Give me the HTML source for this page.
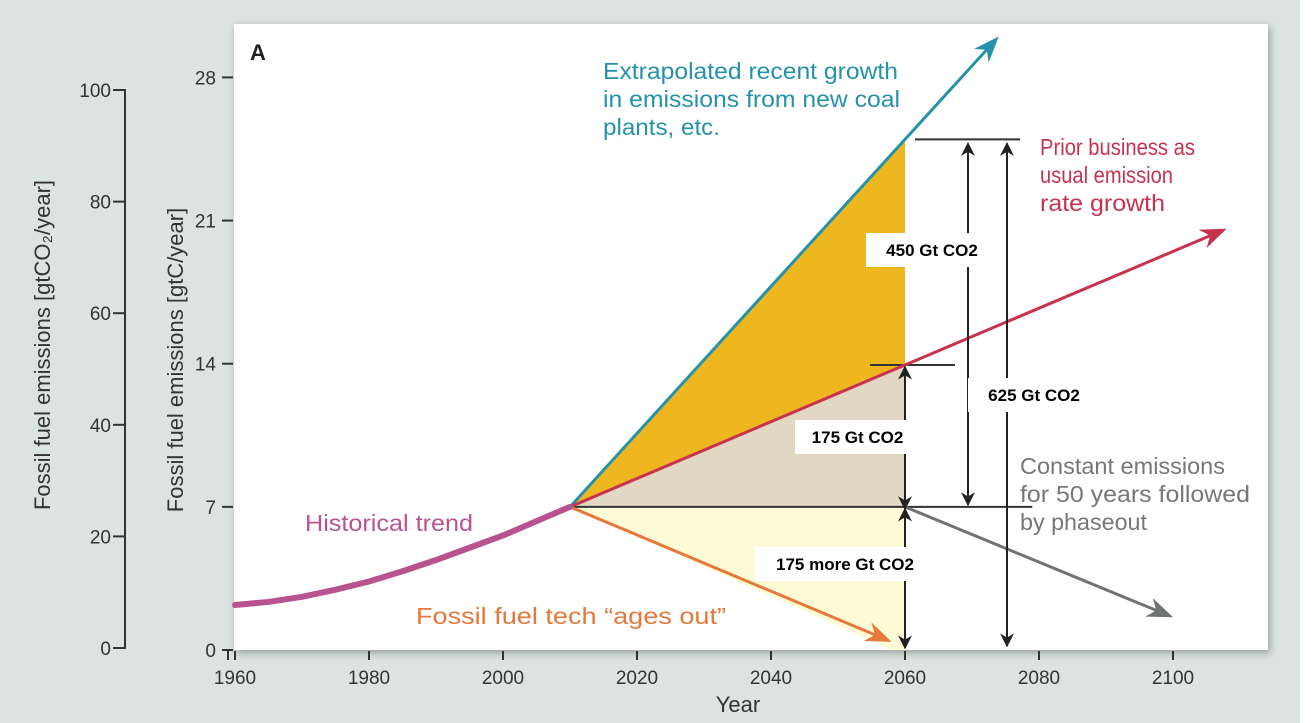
<!DOCTYPE html>
<html><head><meta charset="utf-8">
<style>
html,body{margin:0;padding:0;background:#dbe4e0;}
svg{display:block;font-family:"Liberation Sans",sans-serif;}
</style></head>
<body>
<svg width="1311" height="723" viewBox="0 0 1311 723">
<defs>
<filter id="sh" x="-5%" y="-5%" width="110%" height="110%"><feDropShadow dx="2" dy="3" stdDeviation="4" flood-color="#000" flood-opacity="0.3"/></filter>
<marker id="ab" viewBox="0 0 10 10" refX="9" refY="5" markerWidth="7" markerHeight="9" orient="auto-start-reverse"><path d="M0,0 L10,5 L0,10 L3,5z" fill="#222"/></marker>
</defs>
<rect x="0" y="0" width="1300" height="723" fill="#dbe4e0"/>
<rect x="1300" y="0" width="11" height="723" fill="#fff"/>
<rect x="234" y="24" width="1034" height="626" fill="#fff" filter="url(#sh)"/>
<text x="250" y="60" font-size="22" font-weight="bold" fill="#222">A</text>
<g id="axes"></g>
<g id="marks"></g>
</svg>
<script>
const xTicks=[1960,1980,2000,2020,2040,2060,2080,2100];
const yTicksC=[0,7,14,21,28];
const yTicksCO2=[0,20,40,60,80,100];
const histYears=[1960,1965,1970,1975,1980,1985,1990,1995,2000,2005,2010];
const histVals=[2.2,2.35,2.6,2.95,3.35,3.85,4.4,5.0,5.6,6.3,7.0];
const teal=[[2010,7],[2074,30.0]];
const red=[[2010,7],[2108,20.6]];
const orange=[[2010,7],[2058,0.4]];
const gray=[[2060,7],[2100,1.6]];

const X=y=>235+(y-1960)*6.7;
const Y=v=>650-v*20.45;
const Y2=v=>648-v*5.58;
const NS='http://www.w3.org/2000/svg';
const ax=document.getElementById('axes'),mk=document.getElementById('marks');
function el(p,t,a,txt){const e=document.createElementNS(NS,t);for(const k in a)e.setAttribute(k,a[k]);if(txt!==undefined)e.textContent=txt;p.appendChild(e);return e;}
function lerp(s,x){const [a,b]=s;return a[1]+(b[1]-a[1])*(x-a[0])/(b[0]-a[0]);}

xTicks.forEach(t=>{
 const l=el(ax,'line',{x1:X(t),x2:X(t),y1:651,y2:660,stroke:'#333','stroke-width':2});
 
 
 const tx=el(ax,'text',{x:X(t),y:684,'font-size':19,'text-anchor':'middle',fill:'#333'},t);
 
 
});
let xt=el(ax,'text',{x:738,y:712,'font-size':22,'text-anchor':'middle',fill:'#333'},'Year');

yTicksC.forEach(t=>{
 const l=el(ax,'line',{x1:222,x2:233,y1:Y(t),y2:Y(t),stroke:'#333','stroke-width':2});
 
 const tx=el(ax,'text',{x:216,y:Y(t)+7,'font-size':19,'text-anchor':'end',fill:'#333'},t);
 
});
el(ax,'line',{x1:228,x2:228,y1:650,y2:660,stroke:'#333','stroke-width':2});
let yt=el(ax,'text',{x:0,y:0,'font-size':22,'text-anchor':'middle',fill:'#333',transform:'translate(183,360) rotate(-90)'},'Fossil fuel emissions [gtC/year]');

el(ax,'line',{x1:125,x2:125,y1:Y2(100),y2:Y2(0),stroke:'#333','stroke-width':2});
yTicksCO2.forEach(t=>{
 const l=el(ax,'line',{x1:113,x2:126,y1:Y2(t),y2:Y2(t),stroke:'#333','stroke-width':2});
 
 const tx=el(ax,'text',{x:111,y:Y2(t)+7,'font-size':19,'text-anchor':'end',fill:'#333'},t);
 
});
let y2t=el(ax,'text',{x:0,y:0,'font-size':22,'text-anchor':'middle',fill:'#333',transform:'translate(50,345) rotate(-90)'},'Fossil fuel emissions [gtCO\u2082/year]');


const tE=lerp(teal,2060),rE=lerp(red,2060);
let f1=el(mk,'polygon',{points:`${X(2010)},${Y(7)} ${X(2060)},${Y(tE)} ${X(2060)},${Y(rE)}`,fill:'#efb71f'});

let f2=el(mk,'polygon',{points:`${X(2010)},${Y(7)} ${X(2060)},${Y(rE)} ${X(2060)},${Y(7)}`,fill:'#e2d7c3'});

let f3=el(mk,'polygon',{points:`${X(2010)},${Y(7)} ${X(2060)},${Y(7)} ${X(2060)},${Y(0)} ${X(2058)},${Y(0)}`,fill:'#fdfbd6'});


function arrowLine(s,color,name,w){
 const [a,b]=s;
 const x1=X(a[0]),y1=Y(a[1]),x2=X(b[0]),y2=Y(b[1]);
 const ang=Math.atan2(y2-y1,x2-x1),L=26,W=10;
 const bx=x2-L*Math.cos(ang),by=y2-L*Math.sin(ang);
 const l=el(mk,'line',{x1,y1,x2:bx+8*Math.cos(ang),y2:by+8*Math.sin(ang),stroke:color,'stroke-width':w});
 
 const px=-Math.sin(ang),py=Math.cos(ang);
 el(mk,'polygon',{points:`${x2},${y2} ${bx+px*W},${by+py*W} ${x2-18*Math.cos(ang)},${y2-18*Math.sin(ang)} ${bx-px*W},${by-py*W}`,fill:color});
}
function ln(x1,y1,x2,y2,n){const l=el(mk,'line',{x1,y1,x2,y2,stroke:'#333','stroke-width':2});return l;}
ln(X(2010),Y(7),X(2079),Y(7),'constant-line');
ln(870,Y(rE),955,Y(rE),'bau-2060-line');
ln(915,Y(tE),1020,Y(tE),'extrap-2060-line');
arrowLine(teal,'#2592a9','extrapolated-series',3);
arrowLine(red,'#c8324f','bau-series',3);
arrowLine(orange,'#e5783a','ages-out-series',3);
arrowLine(gray,'#6f7372','phaseout-series',3);
function dbl(x,ya,yb,n){const l=el(mk,'line',{x1:x,y1:ya,x2:x,y2:yb,stroke:'#222','stroke-width':2,'marker-start':'url(#ab)','marker-end':'url(#ab)'});}
dbl(X(2060),Y(7)+2,Y(rE)+2,'arrow-175');
dbl(X(2060),Y(7)+2,Y(0)-2,'arrow-175-more');
dbl(968,Y(tE)+4,Y(7)-2,'arrow-450');
dbl(1007,Y(tE)+4,Y(0)-4,'arrow-625');

let d=histYears.map((y,i)=>(i?'L':'M')+X(y)+','+Y(histVals[i])).join(' ');
let h=el(mk,'path',{d,fill:'none',stroke:'#b9538f','stroke-width':6,'stroke-linecap':'round','stroke-linejoin':'round'});


function box(x,y,w,t,n){const g=el(mk,'g',{});
 el(g,'rect',{x,y,width:w,height:34,fill:'#fff'});
 el(g,'text',{x:x+w/2,y:y+23,'font-size':17,'font-weight':'bold','text-anchor':'middle',fill:'#000'},t);}
box(866,233,132,'450 Gt CO2','label-450');
box(968,378,132,'625 Gt CO2','label-625');
box(795,420,125,'175 Gt CO2','label-175');
box(755,547,180,'175 more Gt CO2','label-175-more');

function tx(x,y,lines,widths,c,n,fs){const t=el(mk,'text',{x,y,'font-size':fs||23,fill:c});
 lines.forEach((s,i)=>el(t,'tspan',{x,dy:i?28:0,textLength:widths[i],lengthAdjust:'spacingAndGlyphs'},s));}
tx(603,79,['Extrapolated recent growth','in emissions from new coal','plants, etc.'],[295,297,117],'#2592a9','label-extrapolated');
tx(1040,155,['Prior business as','usual emission','rate growth'],[155,133,125],'#c8324f','label-bau');
tx(1020,474,['Constant emissions','for 50 years followed','by phaseout'],[205,230,127],'#777','label-constant');
tx(305,531,['Historical trend'],[168],'#b9538f','label-historical');
tx(416,624,['Fossil fuel tech \u201cages out\u201d'],[310],'#e5783a','label-ages-out');
</script>
</body></html>
